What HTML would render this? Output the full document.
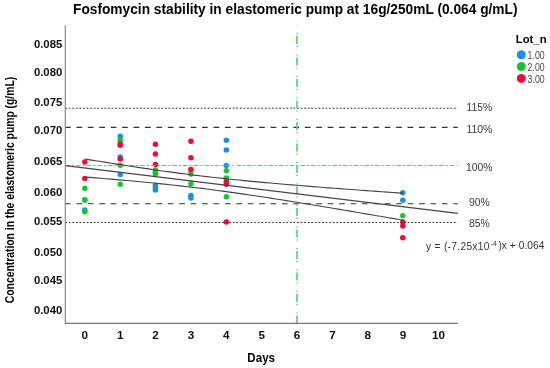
<!DOCTYPE html>
<html><head><meta charset="utf-8"><style>
html,body{margin:0;padding:0;background:#fff;}
svg{display:block;}
text{font-family:"Liberation Sans",Arial,sans-serif;}
.title{font-size:14.1px;font-weight:bold;fill:#000;}
.axt{font-size:11.9px;font-weight:bold;fill:#000;}
.axd{font-size:12.1px;font-weight:bold;fill:#000;}
.yl{font-size:10.5px;font-weight:bold;fill:#111;}
.xl{font-size:11.7px;font-weight:bold;fill:#111;}
.pl{font-size:10.4px;fill:#3a3a3a;}
.eq{font-size:10.2px;fill:#333;}
.lt{font-size:11.3px;font-weight:bold;fill:#000;}
.ll{font-size:10.3px;fill:#444;}
</style></head><body>
<svg width="550" height="368" viewBox="0 0 550 368">
<rect width="550" height="368" fill="#fff"/>
<text x="73.0" y="13.8" class="title" textLength="444.5" lengthAdjust="spacingAndGlyphs">Fosfomycin stability in elastomeric pump at 16g/250mL (0.064 g/mL)</text>
<text transform="translate(14.1,303.2) rotate(-90)" class="axt" textLength="226.4" lengthAdjust="spacingAndGlyphs">Concentration in the elastomeric pump (g/mL)</text>
<text x="247.3" y="361.5" class="axd" textLength="27.8" lengthAdjust="spacingAndGlyphs">Days</text>
<text x="62.3" y="47.95" class="yl" text-anchor="end" textLength="28.4" lengthAdjust="spacingAndGlyphs">0.085</text>
<text x="62.3" y="76.05" class="yl" text-anchor="end" textLength="28.4" lengthAdjust="spacingAndGlyphs">0.080</text>
<text x="62.3" y="105.95" class="yl" text-anchor="end" textLength="28.4" lengthAdjust="spacingAndGlyphs">0.075</text>
<text x="62.3" y="133.55" class="yl" text-anchor="end" textLength="28.4" lengthAdjust="spacingAndGlyphs">0.070</text>
<text x="62.3" y="164.75" class="yl" text-anchor="end" textLength="28.4" lengthAdjust="spacingAndGlyphs">0.065</text>
<text x="62.3" y="195.65" class="yl" text-anchor="end" textLength="28.4" lengthAdjust="spacingAndGlyphs">0.060</text>
<text x="62.3" y="224.75" class="yl" text-anchor="end" textLength="28.4" lengthAdjust="spacingAndGlyphs">0.055</text>
<text x="62.3" y="255.65" class="yl" text-anchor="end" textLength="28.4" lengthAdjust="spacingAndGlyphs">0.050</text>
<text x="62.3" y="283.75" class="yl" text-anchor="end" textLength="28.4" lengthAdjust="spacingAndGlyphs">0.045</text>
<text x="62.3" y="314.05" class="yl" text-anchor="end" textLength="28.4" lengthAdjust="spacingAndGlyphs">0.040</text>
<text x="84.80" y="338.9" class="xl" text-anchor="middle">0</text>
<text x="120.17" y="338.9" class="xl" text-anchor="middle">1</text>
<text x="155.54" y="338.9" class="xl" text-anchor="middle">2</text>
<text x="190.91" y="338.9" class="xl" text-anchor="middle">3</text>
<text x="226.28" y="338.9" class="xl" text-anchor="middle">4</text>
<text x="261.65" y="338.9" class="xl" text-anchor="middle">5</text>
<text x="297.02" y="338.9" class="xl" text-anchor="middle">6</text>
<text x="332.39" y="338.9" class="xl" text-anchor="middle">7</text>
<text x="367.76" y="338.9" class="xl" text-anchor="middle">8</text>
<text x="403.13" y="338.9" class="xl" text-anchor="middle">9</text>
<text x="438.50" y="338.9" class="xl" text-anchor="middle">10</text>
<circle cx="84.8" cy="199.8" r="2.75" fill="#1a8fe3"/>
<circle cx="84.8" cy="209.9" r="2.75" fill="#1a8fe3"/>
<circle cx="120.2" cy="136.3" r="2.75" fill="#1a8fe3"/>
<circle cx="120.2" cy="157.1" r="2.75" fill="#1a8fe3"/>
<circle cx="120.2" cy="174.6" r="2.75" fill="#1a8fe3"/>
<circle cx="155.4" cy="185.5" r="2.75" fill="#1a8fe3"/>
<circle cx="155.4" cy="187.7" r="2.75" fill="#1a8fe3"/>
<circle cx="155.4" cy="190.0" r="2.75" fill="#1a8fe3"/>
<circle cx="190.9" cy="195.6" r="2.75" fill="#1a8fe3"/>
<circle cx="190.9" cy="198.0" r="2.75" fill="#1a8fe3"/>
<circle cx="226.3" cy="140.3" r="2.75" fill="#1a8fe3"/>
<circle cx="226.3" cy="150.1" r="2.75" fill="#1a8fe3"/>
<circle cx="226.3" cy="165.6" r="2.75" fill="#1a8fe3"/>
<circle cx="402.8" cy="192.8" r="2.75" fill="#1a8fe3"/>
<circle cx="402.8" cy="200.2" r="2.75" fill="#1a8fe3"/>
<circle cx="84.8" cy="188.3" r="2.75" fill="#16c42c"/>
<circle cx="84.8" cy="200.3" r="2.75" fill="#16c42c"/>
<circle cx="84.8" cy="211.7" r="2.75" fill="#16c42c"/>
<circle cx="120.2" cy="140.0" r="2.75" fill="#16c42c"/>
<circle cx="120.2" cy="165.3" r="2.75" fill="#16c42c"/>
<circle cx="120.2" cy="184.2" r="2.75" fill="#16c42c"/>
<circle cx="155.4" cy="169.9" r="2.75" fill="#16c42c"/>
<circle cx="155.4" cy="172.0" r="2.75" fill="#16c42c"/>
<circle cx="155.4" cy="173.8" r="2.75" fill="#16c42c"/>
<circle cx="190.9" cy="174.0" r="2.75" fill="#16c42c"/>
<circle cx="190.9" cy="183.8" r="2.75" fill="#16c42c"/>
<circle cx="226.3" cy="170.8" r="2.75" fill="#16c42c"/>
<circle cx="226.3" cy="178.0" r="2.75" fill="#16c42c"/>
<circle cx="226.3" cy="196.7" r="2.75" fill="#16c42c"/>
<circle cx="402.8" cy="215.7" r="2.75" fill="#16c42c"/>
<circle cx="84.8" cy="161.9" r="2.75" fill="#f0093d"/>
<circle cx="84.8" cy="178.5" r="2.75" fill="#f0093d"/>
<circle cx="120.2" cy="144.0" r="2.75" fill="#f0093d"/>
<circle cx="120.2" cy="145.2" r="2.75" fill="#f0093d"/>
<circle cx="120.2" cy="159.0" r="2.75" fill="#f0093d"/>
<circle cx="155.4" cy="144.2" r="2.75" fill="#f0093d"/>
<circle cx="155.4" cy="154.0" r="2.75" fill="#f0093d"/>
<circle cx="155.4" cy="164.5" r="2.75" fill="#f0093d"/>
<circle cx="190.9" cy="141.2" r="2.75" fill="#f0093d"/>
<circle cx="190.9" cy="157.7" r="2.75" fill="#f0093d"/>
<circle cx="190.9" cy="169.6" r="2.75" fill="#f0093d"/>
<circle cx="226.3" cy="181.7" r="2.75" fill="#f0093d"/>
<circle cx="226.3" cy="184.2" r="2.75" fill="#f0093d"/>
<circle cx="226.3" cy="222.0" r="2.75" fill="#f0093d"/>
<circle cx="402.8" cy="221.9" r="2.75" fill="#f0093d"/>
<circle cx="402.8" cy="225.9" r="2.75" fill="#f0093d"/>
<circle cx="402.8" cy="237.8" r="2.75" fill="#f0093d"/>
<line x1="65.13" y1="108.3" x2="457.8" y2="108.3" stroke="#333" stroke-width="1.1" stroke-dasharray="1.8 1.767"/>
<line x1="65" y1="127.4" x2="457.8" y2="127.4" stroke="#333" stroke-width="1.1" stroke-dasharray="5.71 5.71"/>
<line x1="65.5" y1="165.5" x2="457.8" y2="165.5" stroke="#ff7080" stroke-width="1" stroke-dasharray="4.4 2.2 1.9 2.18"/>
<line x1="65" y1="203.7" x2="457.8" y2="203.7" stroke="#333" stroke-width="1.1" stroke-dasharray="5.71 5.71"/>
<line x1="65.13" y1="222.5" x2="457.8" y2="222.5" stroke="#333" stroke-width="1.1" stroke-dasharray="1.8 1.767"/>
<line x1="297" y1="323.4" x2="297" y2="25.3" stroke="#4fd16a" stroke-width="1.6" stroke-dasharray="8 2 1 7.5 1 2"/>
<line x1="65.3" y1="165.6" x2="457.8" y2="213.41" stroke="#444" stroke-width="1.1"/>
<path d="M84.80,158.97 L90.11,159.84 L95.41,160.70 L100.72,161.56 L106.02,162.41 L111.33,163.25 L116.63,164.09 L121.94,164.91 L127.24,165.73 L132.55,166.54 L137.85,167.35 L143.16,168.14 L148.47,168.91 L153.77,169.68 L159.08,170.44 L164.38,171.18 L169.69,171.91 L174.99,172.63 L180.30,173.33 L185.60,174.01 L190.91,174.68 L196.22,175.34 L201.52,175.98 L206.83,176.61 L212.13,177.22 L217.44,177.81 L222.74,178.39 L228.05,178.96 L233.35,179.51 L238.66,180.05 L243.96,180.58 L249.27,181.10 L254.58,181.60 L259.88,182.10 L265.19,182.58 L270.49,183.06 L275.80,183.52 L281.10,183.98 L286.41,184.43 L291.71,184.88 L297.02,185.32 L302.33,185.75 L307.63,186.17 L312.94,186.60 L318.24,187.01 L323.55,187.43 L328.85,187.83 L334.16,188.24 L339.46,188.64 L344.77,189.04 L350.07,189.43 L355.38,189.82 L360.69,190.21 L365.99,190.60 L371.30,190.98 L376.60,191.37 L381.91,191.75 L387.21,192.12 L392.52,192.50 L397.82,192.87 L403.13,193.25" fill="none" stroke="#444" stroke-width="1.1"/>
<path d="M84.80,176.98 L90.11,177.40 L95.41,177.83 L100.72,178.27 L106.02,178.71 L111.33,179.16 L116.63,179.62 L121.94,180.08 L127.24,180.56 L132.55,181.04 L137.85,181.53 L143.16,182.03 L148.47,182.54 L153.77,183.07 L159.08,183.61 L164.38,184.16 L169.69,184.72 L174.99,185.30 L180.30,185.89 L185.60,186.49 L190.91,187.11 L196.22,187.75 L201.52,188.40 L206.83,189.07 L212.13,189.75 L217.44,190.45 L222.74,191.16 L228.05,191.89 L233.35,192.63 L238.66,193.38 L243.96,194.14 L249.27,194.92 L254.58,195.71 L259.88,196.50 L265.19,197.31 L270.49,198.13 L275.80,198.95 L281.10,199.79 L286.41,200.63 L291.71,201.48 L297.02,202.33 L302.33,203.19 L307.63,204.06 L312.94,204.93 L318.24,205.80 L323.55,206.68 L328.85,207.57 L334.16,208.46 L339.46,209.35 L344.77,210.24 L350.07,211.14 L355.38,212.04 L360.69,212.94 L365.99,213.85 L371.30,214.76 L376.60,215.67 L381.91,216.58 L387.21,217.50 L392.52,218.41 L397.82,219.33 L403.13,220.25" fill="none" stroke="#444" stroke-width="1.1"/>
<line x1="65.3" y1="25.3" x2="65.3" y2="323.4" stroke="#888" stroke-width="1.2"/>
<line x1="64.7" y1="323.4" x2="457.8" y2="323.4" stroke="#777" stroke-width="1.2"/>
<text x="479.3" y="110.8" class="pl" text-anchor="middle">115%</text>
<text x="479.3" y="132.5" class="pl" text-anchor="middle">110%</text>
<text x="479.3" y="170.7" class="pl" text-anchor="middle">100%</text>
<text x="479.3" y="205.8" class="pl" text-anchor="middle">90%</text>
<text x="479.3" y="227.0" class="pl" text-anchor="middle">85%</text>
<text x="426" y="249.9" class="eq" textLength="63.4" lengthAdjust="spacing">y = (-7.25x10</text>
<text x="490.9" y="245.8" class="eq" style="font-size:6.6px">-4</text>
<text x="498.4" y="249.3" class="eq" textLength="46" lengthAdjust="spacing">)x + 0.064</text>
<text x="515.8" y="42.8" class="lt">Lot_n</text>
<circle cx="521.3" cy="54.80" r="4.5" fill="#1a8fe3"/>
<text x="527.6" y="58.90" class="ll" textLength="17" lengthAdjust="spacingAndGlyphs">1.00</text>
<circle cx="521.3" cy="66.60" r="4.5" fill="#16c42c"/>
<text x="527.6" y="70.70" class="ll" textLength="17" lengthAdjust="spacingAndGlyphs">2.00</text>
<circle cx="521.3" cy="78.40" r="4.5" fill="#f0093d"/>
<text x="527.6" y="82.50" class="ll" textLength="17" lengthAdjust="spacingAndGlyphs">3.00</text>
</svg>
</body></html>
